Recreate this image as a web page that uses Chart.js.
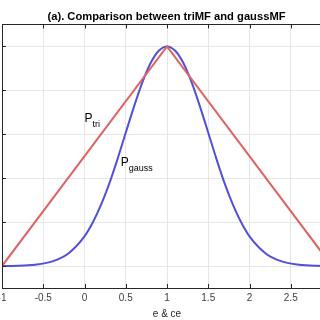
<!DOCTYPE html>
<html>
<head>
<meta charset="utf-8">
<script src="https://cdn.jsdelivr.net/npm/chart.js@4"></script>
<style>
  html, body { margin: 0; padding: 0; background: #fff; overflow: hidden; }
  #wrap { position: absolute; left: -30px; top: 0; width: 394px; height: 320px; }
</style>
</head>
<body>
<div id="wrap"><canvas id="c"></canvas></div>
<script>
// DATA
const xTicks = [-1, -0.5, 0, 0.5, 1, 1.5, 2, 2.5, 3];
const yTicks = [0, 0.2, 0.4, 0.6, 0.8, 1];

const triX = [-1, 1, 3];
const triY = [0, 1, 0];

const gaussX = [-1, -0.8, -0.6, -0.4, -0.2, 0, 0.1, 0.2, 0.3, 0.4, 0.5, 0.6, 0.7, 0.8, 0.9, 1,
                1.1, 1.2, 1.3, 1.4, 1.5, 1.6, 1.7, 1.8, 1.9, 2, 2.2, 2.4, 2.6, 2.8, 3];
const gaussY = [0, 0.001, 0.006, 0.02, 0.056, 0.135, 0.198, 0.278, 0.375, 0.487, 0.607, 0.726, 0.835, 0.923, 0.98, 1,
                0.98, 0.923, 0.835, 0.726, 0.607, 0.487, 0.375, 0.278, 0.198, 0.135, 0.056, 0.02, 0.006, 0.001, 0];

// text labels placed on the curves
const notes = [
  { main: "P", sub: "tri", x: 0, y: 0.67 },
  { main: "P", sub: "gauss", x: 0.44, y: 0.47 }
];

const toPts = (xs, ys) => xs.map((x, i) => ({ x: x, y: ys[i] }));

// P_tri / P_gauss
const notePlugin = {
  id: "notes",
  afterDatasetsDraw(chart) {
    const ctx = chart.ctx;
    const sx = chart.scales.x, sy = chart.scales.y;
    ctx.save();
    ctx.fillStyle = "#000";
    ctx.textBaseline = "middle";
    notes.forEach(n => {
      const px = sx.getPixelForValue(n.x);
      const py = sy.getPixelForValue(n.y);
      ctx.font = "12px 'Liberation Sans', Arial, sans-serif";
      ctx.fillText(n.main, px, py);
      const w = ctx.measureText(n.main).width;
      ctx.font = "9px 'Liberation Sans', Arial, sans-serif";
      ctx.fillText(n.sub, px + w, py + 6);
    });
    ctx.restore();
  }
};

// box round the plot, ticks inside like MATLAB
const framePlugin = {
  id: "frame",
  afterDraw(chart) {
    const a = chart.chartArea;
    const ctx = chart.ctx;
    const sx = chart.scales.x, sy = chart.scales.y;
    ctx.save();
    ctx.strokeStyle = "#262626";
    ctx.lineWidth = 1;
    ctx.beginPath();
    xTicks.forEach(v => {
      const px = Math.round(sx.getPixelForValue(v)) + 0.5;
      ctx.moveTo(px, a.bottom); ctx.lineTo(px, a.bottom - 4);
      ctx.moveTo(px, a.top); ctx.lineTo(px, a.top + 4);
    });
    yTicks.forEach(v => {
      const py = Math.round(sy.getPixelForValue(v)) + 0.5;
      ctx.moveTo(a.left, py); ctx.lineTo(a.left + 4, py);
    });
    ctx.stroke();
    ctx.strokeRect(Math.round(a.left) + 0.5, Math.round(a.top) + 0.5,
                   Math.round(a.right - a.left), Math.round(a.bottom - a.top));
    ctx.restore();
  }
};

const chart = new Chart(document.getElementById("c"), {
  type: "line",
  data: {
    datasets: [
      {
        label: "triMF",
        data: toPts(triX, triY),
        borderColor: "#e06464",
        borderWidth: 2,
        pointRadius: 0,
        tension: 0
      },
      {
        label: "gaussMF",
        data: toPts(gaussX, gaussY),
        borderColor: "#5050d8",
        borderWidth: 2,
        pointRadius: 0,
        cubicInterpolationMode: "monotone"
      }
    ]
  },
  options: {
    responsive: true,
    maintainAspectRatio: false,
    animation: false,
    layout: { padding: { left: 31, right: 32, top: 2, bottom: 0 } },
    plugins: {
      legend: { display: false },
      tooltip: { enabled: false },
      title: {
        display: true,
        text: "(a). Comparison between triMF and gaussMF",
        color: "#000",
        font: { family: "'Liberation Sans', Arial, sans-serif", size: 11.2, weight: "bold" },
        padding: { top: 8, bottom: 1 }
      }
    },
    scales: {
      x: {
        type: "linear",
        min: -1,
        max: 3,
        afterBuildTicks: s => { s.ticks = xTicks.map(v => ({ value: v })); },
        ticks: {
          color: "#404040",
          font: { family: "'Liberation Sans', Arial, sans-serif", size: 10 },
          maxRotation: 0,
          padding: 4,
          callback: v => String(v)
        },
        grid: { color: "#e6e6e6", drawTicks: false },
        border: { display: false },
        title: {
          display: true,
          text: "e & ce",
          color: "#262626",
          font: { family: "'Liberation Sans', Arial, sans-serif", size: 10 },
          padding: { top: 0, bottom: 0 }
        }
      },
      y: {
        type: "linear",
        min: -0.1,
        max: 1.1,
        afterBuildTicks: s => { s.ticks = yTicks.map(v => ({ value: v })); },
        ticks: { display: false },
        grid: { color: "#e6e6e6", drawTicks: false },
        border: { display: false },
        afterFit: s => { s.width = 1; }
      }
    }
  },
  plugins: [notePlugin, framePlugin]
});
</script>
</body>
</html>
